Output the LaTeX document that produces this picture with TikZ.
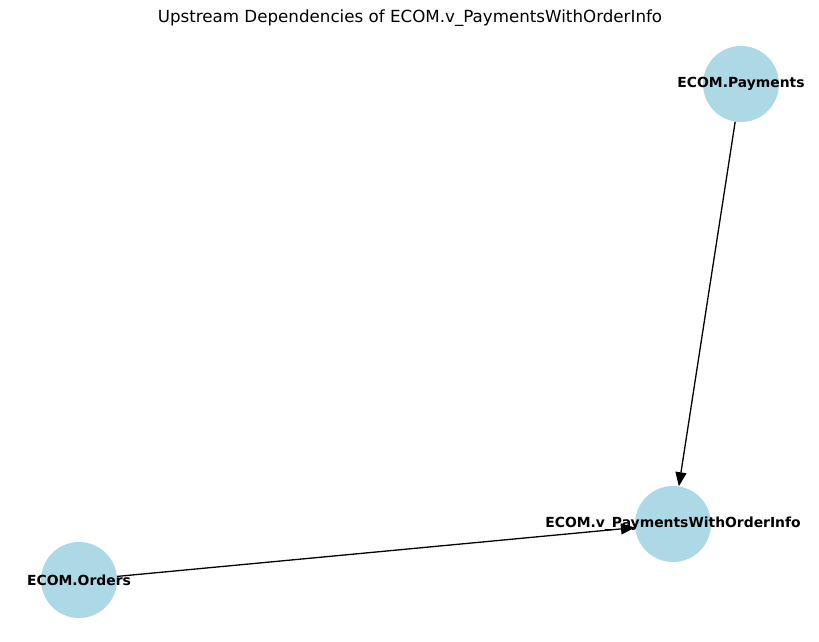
\documentclass[tikz,border=0pt]{standalone}
\usepackage{fontspec}
\setmainfont{DejaVu Sans}
\usetikzlibrary{arrows.meta}
\definecolor{lightblue}{HTML}{ADD8E6}
\begin{document}
\begin{tikzpicture}[x=1pt,y=-1pt,
  tbl/.style={circle,fill=lightblue,minimum size=76pt,inner sep=0pt},
  lbl/.style={font=\bfseries\fontsize{13.9}{16}\selectfont,text=black,inner sep=0pt},
  dep/.style={draw=black,line width=1.3pt,-{Triangle[length=14pt,width=11pt]},shorten >=0pt}]
\useasboundingbox (0,0) rectangle (819,642);
\node[tbl] (pay) at (741,84) {};
\node[tbl] (view) at (673,524) {};
\node[tbl] (ord) at (79,580) {};
\draw[dep] (pay) -- (view);
\draw[dep] (ord) -- (view);
\node[lbl] at (pay.center) {ECOM.Payments};
\node[lbl] at (view.center) {ECOM.v\_PaymentsWithOrderInfo};
\node[lbl] at (ord.center) {ECOM.Orders};
\node[font=\fontsize{16.7}{20}\selectfont,inner sep=0pt] (title) at (410,18) {Upstream Dependencies of ECOM.v\_PaymentsWithOrderInfo};
\end{tikzpicture}
\end{document}
